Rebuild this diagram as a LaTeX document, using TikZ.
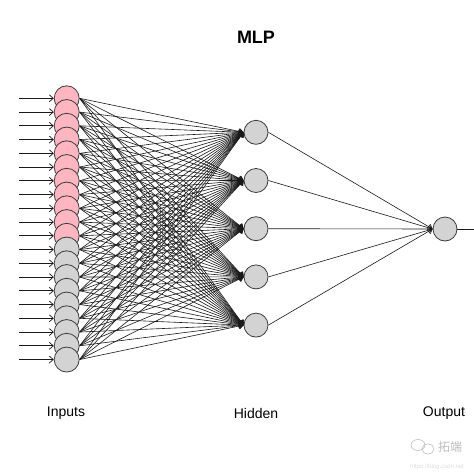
\documentclass[tikz,border=0pt]{standalone}
\usepackage{fontspec}
\setmainfont{Liberation Sans}
\newfontfamily\cjkfont{Noto Sans CJK SC}
\usetikzlibrary{arrows.meta}
\definecolor{pinkfill}{RGB}{255,182,193}
\definecolor{grayfill}{RGB}{211,211,211}
\definecolor{ringcol}{RGB}{60,60,60}
\definecolor{wirecol}{RGB}{25,25,25}
\definecolor{wmcol}{RGB}{190,190,190}
\definecolor{wmcolb}{RGB}{222,222,222}
\pgfdeclarelayer{back}
\pgfdeclarelayer{wires}
\pgfsetlayers{back,wires,main}
\begin{document}
\begin{tikzpicture}[x=1pt,y=-1pt,
  neuronin/.style={circle,draw=ringcol,line width=0.8pt,minimum size=25pt,inner sep=0pt},
  neuronh/.style={circle,draw=ringcol,line width=0.8pt,fill=grayfill,minimum size=24pt,inner sep=0pt},
  conn/.style={draw=wirecol,line width=0.6pt,-{Straight Barb[length=4pt,width=6pt]}},
  inarrow/.style={draw=wirecol,line width=0.7pt,-{Straight Barb[length=4pt,width=7pt]}},
  lbl/.style={font=\fontsize{14}{16}\selectfont},
  ttl/.style={font=\bfseries\fontsize{18}{20}\selectfont},
  wmicon/.style={draw=wmcol,line width=0.6pt}]
\begin{pgfonlayer}{back}
\fill[white] (0,0) rectangle (474,475);
\end{pgfonlayer}
\useasboundingbox (0,0) rectangle (474,475);

% input neurons (drawn top to bottom, each overlapping the one above)
\foreach \i in {1,...,20} {
  \pgfmathsetmacro\yy{98.3+13.75*(\i-1)}
  \ifnum\i<12 \def\fc{pinkfill}\else\def\fc{grayfill}\fi
  \node[neuronin,fill=\fc] (in\i) at (66.7,\yy) {};
  \coordinate (src\i) at (19,\yy);
}
% hidden neurons
\foreach \j in {1,...,5} {
  \pgfmathsetmacro\yy{132.3+48.2*(\j-1)}
  \node[neuronh] (h\j) at (256,\yy) {};
}
% output neuron
\node[neuronh] (out) at (445,229) {};
\coordinate (oend) at (480,229);

\begin{pgfonlayer}{wires}
\foreach \i in {1,...,20} {
  \draw[inarrow] (src\i) -- (in\i.west);
  \foreach \j in {1,...,5} {
    \draw[conn] (in\i.east) -- (h\j.west);
  }
}
\foreach \j in {1,...,5} {
  \draw[conn] (h\j.east) -- (out.west);
}
\draw[draw=wirecol,line width=0.6pt] (out.east) -- (oend);
\end{pgfonlayer}

% texts
\node[ttl] (title) at (256,37) {MLP};
\node[lbl] (linputs) at (66,413) {Inputs};
\node[lbl] (lhidden) at (256,413) {Hidden};
\node[lbl] (loutput) at (444,413) {Output};

% watermark
\draw[wmicon] (418,445) ellipse [x radius=7pt, y radius=5.5pt];
\draw[wmicon] (428,449) ellipse [x radius=6pt, y radius=5pt];
\node[anchor=west,text=wmcol,inner sep=0pt,font=\cjkfont\fontsize{12}{12}\selectfont] (wm1) at (438,447) {拓端};
\node[anchor=west,text=wmcolb,inner sep=0pt,font=\fontsize{6}{7}\selectfont] (wm2) at (410,467) {https://blog.csdn.net};
\end{tikzpicture}
\end{document}
